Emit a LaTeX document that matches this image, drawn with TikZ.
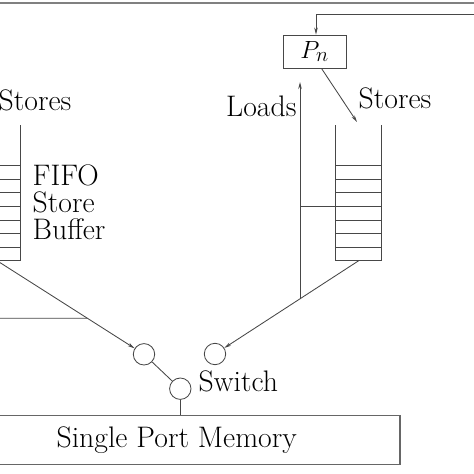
\documentclass[tikz,border=0pt]{standalone}
\usepackage{fontspec}
\usetikzlibrary{arrows.meta,calc}
\begin{document}
\begin{tikzpicture}[x=1pt,y=-1pt,
  ln/.style={draw=black!72, line width=0.85pt},
  arr/.style={ln, -{Stealth[length=7pt,width=3.5pt]}},
  lbl/.style={inner sep=0pt, font=\fontsize{29.7}{35}\selectfont, text=black},
  port/.style={circle, draw=black!72, line width=0.85pt, minimum size=21.4pt, inner sep=0pt},
  box/.style={draw=black!72, line width=0.9pt, inner sep=0pt, font=\fontsize{29.7}{35}\selectfont}]
\useasboundingbox (0,0) rectangle (474,474);
% top frame line
\coordinate (topL) at (-5,3);
\coordinate (topR) at (480,3);
\draw[line width=1.6pt, black!50] (topL) -- (topR);
% processor
\node[box, minimum width=63pt, minimum height=33pt] (pn) at (314.5,51.5) {$P_n$};
% memory
\node[box, line width=1.2pt, draw=black!60, minimum width=446.6pt, minimum height=48.6pt] (mem) at (176.7,440) {Single Port Memory};
% switch ports
\node[port] (c1) at (144,354.3) {};
\node[port] (c2) at (215,354) {};
\node[port] (sw) at (180.3,388.7) {};
% stacks
\draw[ln] (335.7,125) -- (335.7,260.7) (381.7,125) -- (381.7,260.7);
\foreach \k in {0,...,7} \draw[ln] (335.7,{165.7+13.57*\k}) -- (381.7,{165.7+13.57*\k});
\draw[ln] (20,125) -- (20,260.7);
\foreach \k in {0,...,7} \draw[ln] (-26,{165.7+13.57*\k}) -- (20,{165.7+13.57*\k});
\coordinate (rsb) at (358.7,260.7);
\coordinate (lsb) at (-3,260.7);
% labels
\node[lbl, anchor=base west] (lstores) at (-1.5,110.7) {Stores};
\node[lbl, anchor=base west] (loads) at (226,116.7) {Loads};
\node[lbl, anchor=base west] (rstores) at (358.5,108.3) {Stores};
\node[lbl, anchor=north west, align=left, font=\fontsize{29.7}{27}\selectfont] (fifo) at (32.5,164.7) {FIFO\\Store\\Buffer};
\node[lbl, anchor=base west] (switch) at (198.5,391.7) {Switch};
% connectors
\coordinate (fb) at (480,14);
\coordinate (pin) at ($(pn.north)+(1.5,0)$);
\draw[arr] (fb) -| (pin);
\coordinate (stt) at (357,122);
\draw[arr] ($(pn.south)+(7,0)$) -- (stt);
\draw[arr] (rsb) -- (c2);
\draw[arr] (lsb) -- (c1);
\coordinate (ljoin) at ($(lsb)!0.615!(c1)$);
\coordinate (lfree) at (-10,318.3);
\draw[ln] (lfree) -- (ljoin);
\coordinate (rjoin) at ($(rsb)!0.4085!(c2)$);
\coordinate (loadtip) at (300,82);
\draw[arr] (rjoin) -- (rjoin |- loadtip);
\coordinate (rstackl) at (335.7,206.7);
\draw[ln] (rstackl -| rjoin) -- (rstackl);
\draw[ln] (c1) -- (sw);
\draw[ln] (sw) -- (sw |- mem.north);
\end{tikzpicture}
\end{document}
